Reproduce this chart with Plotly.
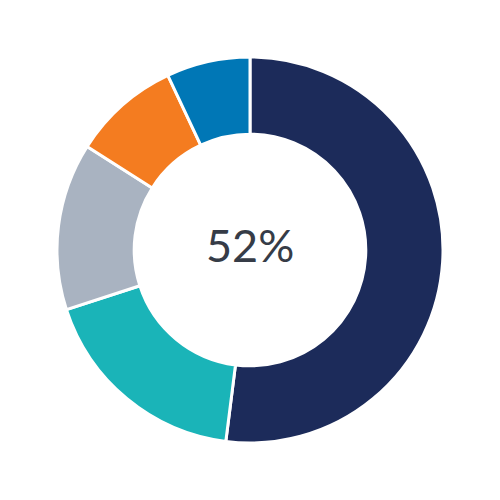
import plotly.graph_objects as go

# slices, clockwise from 12 o'clock
labels = ["A", "B", "C", "D", "E"]
values = [52, 18, 14, 9, 7]
colors = ["#1c2b5a", "#1ab4b8", "#a9b3c1", "#f47c20", "#0077b6"]
center_text = "52%"

fig = go.Figure(go.Pie(
    labels=labels,
    values=values,
    hole=0.6,
    sort=False,
    direction="clockwise",
    rotation=0,
    marker=dict(colors=colors, line=dict(color="white", width=3)),
    textinfo="none",
    hoverinfo="label+percent",
    showlegend=False,
))

fig.add_annotation(text=center_text, x=0.5, y=0.5, xref="paper", yref="paper",
                   yshift=5, showarrow=False,
                   font=dict(family="Lato", size=45, color="#363c47"))

# page body adds ~8px offset, so shift the domain up/left
fig.update_layout(width=500, height=500,
                  margin=dict(l=49, r=65, t=49, b=65),
                  paper_bgcolor="white", plot_bgcolor="white")

fig.write_html("out.html")
